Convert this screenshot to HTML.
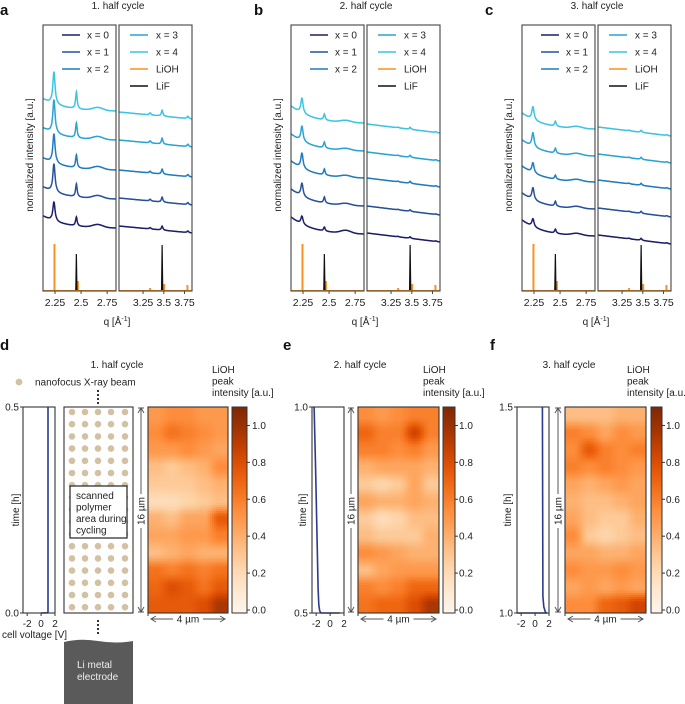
<!DOCTYPE html>
<html><head><meta charset="utf-8">
<style>
html,body{margin:0;padding:0;background:#fff;}
svg{display:block;font-family:"Liberation Sans",Arial,sans-serif;}
</style></head>
<body>
<svg id="fig" width="685" height="704" viewBox="0 0 685 704" xmlns="http://www.w3.org/2000/svg"></svg>
<script>
// ---------- DATA ----------
const seriesLabels=["x = 0","x = 1","x = 2","x = 3","x = 4"];
const seriesColors=["#1b1f6b","#27519b","#1f7cbf","#2ba3d3","#3dc4e2"];
const panelTitles=["1. half cycle","2. half cycle","3. half cycle"];
const qTicksL=[2.25,2.5,2.75];
const qTicksR=[3.25,3.5,3.75];
// spectrum parameters per panel (intensity in arbitrary units)
const startA=[75,104,133,163,192], liohA=[19,28,29,33,32], lifA=[9,13,13,15,17], humpA=[3,3,3,3,3], rOffA=[10,11,12,12,13], rPeakA=[4,5,5,6,6];
const startB=[74,102,130,157,185], liohB=[8,13,15,15,15], lifB=[4,6,6,6,6], humpB=[3,2,2,2,2], rOffB=[16,17,17,18,18], rPeakB=[1.5,1.5,2,2,2];
const startC=[71,98,125,151,178], liohC=[8,12,10,14,13], lifC=[4,5,4,5,5], humpC=[2,2,2,2,2], rOffC=[15,15,14,14,14], rPeakC=[2,2,2,2,2];
const dropL=[12,17,16], dropR=[7,9,9];
// reference sticks
const liohQ=[2.245,2.47,3.335,3.505,3.785], liohH=[47,10,3,7,6];
const lifQ=[2.455,3.48], lifH=[37,46];
// voltage curves
const timeD=[0,0.0005,0.003,0.5], voltD=[0,0.9,1.0,1.0];
const timeE=[0.5,0.5,0.505,0.52,0.56,0.7,0.85,1.0], voltE=[1.4,-1.3,-1.5,-1.62,-1.72,-1.9,-2.08,-2.3];
const timeF=[1.0,1.0,1.004,1.015,1.04,1.5], voltF=[-2.6,1.6,1.45,1.25,1.12,1.05];
const timeRanges=[[0,0.5],[0.5,1.0],[1.0,1.5]];
const voltTicks=[-2,0,2];
const cbTicks=[0,0.2,0.4,0.6,0.8,1.0];
// heatmaps (rows top->bottom, 5 cols)
const heatD=[[.5,.55,.55,.5,.5],[.55,.65,.6,.55,.5],[.5,.5,.55,.5,.45],[.35,.3,.35,.4,.55],[.3,.3,.3,.35,.4],[.2,.2,.25,.3,.35],[.4,.35,.45,.45,.75],[.45,.45,.5,.5,.6],[.35,.4,.45,.4,.4],[.65,.6,.65,.6,.65],[.7,.8,.75,.65,.75],[.75,.75,.75,.8,.95]];
const heatE=[[.55,.5,.55,.6,.6],[.7,.6,.6,.85,.6],[.6,.6,.55,.6,.5],[.4,.45,.45,.45,.4],[.3,.25,.3,.45,.3],[.45,.4,.4,.45,.4],[.3,.2,.25,.35,.35],[.35,.3,.3,.3,.4],[.55,.5,.45,.4,.4],[.35,.45,.5,.5,.5],[.6,.55,.6,.7,.7],[.65,.7,.7,.8,.95]];
const heatF=[[.35,.35,.35,.4,.4],[.6,.55,.45,.55,.5],[.55,.75,.6,.55,.6],[.6,.55,.6,.55,.5],[.45,.4,.45,.5,.45],[.4,.35,.35,.4,.45],[.45,.35,.3,.3,.4],[.55,.3,.25,.3,.35],[.45,.45,.4,.4,.45],[.55,.5,.5,.55,.5],[.45,.5,.45,.5,.45],[.55,.55,.7,.75,.85]];

// ---------- HELPERS ----------
const NS="http://www.w3.org/2000/svg";
const svg=document.getElementById('fig');
function mk(tag,attrs,parent){const e=document.createElementNS(NS,tag);for(const k in attrs)e.setAttribute(k,attrs[k]);(parent||svg).appendChild(e);return e;}
function txt(x,y,s,size,anchor,parent,extra){const e=mk('text',Object.assign({x:x,y:y,'font-size':size,'text-anchor':anchor||'start',fill:'#222'},extra||{}),parent);e.textContent=s;return e;}
function lin(a,b,c,d){return v=>c+(v-a)*(d-c)/(b-a);}
function lor(q,c,w){return 1/(1+((q-c)/w)*((q-c)/w));}
const OR=[[0,[255,245,235]],[.125,[254,230,206]],[.25,[253,208,162]],[.375,[253,174,107]],[.5,[253,141,60]],[.625,[241,105,19]],[.75,[217,72,1]],[.875,[166,54,3]],[1,[127,39,4]]];
function oranges(t){t=Math.max(0,Math.min(1,t));for(let i=1;i<OR.length;i++){if(t<=OR[i][0]){const a=OR[i-1],b=OR[i];const f=(t-a[0])/(b[0]-a[0]);const c=a[1].map((v,k)=>Math.round(v+(b[1][k]-v)*f));return `rgb(${c[0]},${c[1]},${c[2]})`;}}return 'rgb(127,39,4)';}

// ---------- TOP PANELS ----------
const params=[
 {start:startA,lioh:liohA,lif:lifA,hump:humpA,rOff:rOffA,rPeak:rPeakA},
 {start:startB,lioh:liohB,lif:lifB,hump:humpB,rOff:rOffB,rPeak:rPeakB},
 {start:startC,lioh:liohC,lif:lifC,hump:humpC,rOff:rOffC,rPeak:rPeakC}];
const offsets=[0,248,479];
const panelLetters=["a","b","c"];
const yInt=lin(0,266,291,25);
params.forEach((P,p)=>{
  const ox=offsets[p];
  const g=mk('g',{});
  
  
  const lab=txt(ox+(p==0?0:6),15,panelLetters[p],15,'start',g,{'font-weight':'bold',fill:'#111'});
  
  
  const tt=txt(ox+118,9,panelTitles[p],10,'middle',g);
  
  
  const xL=lin(2.135,2.835,43+ox,116+ox), xR=lin(2.96,3.84,119+ox,192+ox);
  const cid='clip'+p;
  const cp=mk('clipPath',{id:cid},g);mk('rect',{x:43+ox,y:25,width:73,height:266},cp);
  const cid2='clipR'+p;
  const cp2=mk('clipPath',{id:cid2},g);mk('rect',{x:119+ox,y:25,width:73,height:266},cp2);
  for(let i=0;i<5;i++){
    let d='';
    for(let q=2.135;q<=2.835;q+=0.002){
      const v=P.start[i]-dropL[p]*(1-Math.exp(-(q-2.135)/0.2))/(1-Math.exp(-0.7/0.2))+P.lioh[i]*lor(q,2.24,0.013)+P.lif[i]*lor(q,2.455,0.009)+P.hump[i]*Math.exp(-Math.pow((q-2.66)/0.07,2));
      d+=(d?'L':'M')+xL(q).toFixed(1)+' '+yInt(v).toFixed(1);
    }
    const pl=mk('path',{d:d,fill:'none',stroke:seriesColors[i],'stroke-width':1.5,'clip-path':`url(#${cid})`},g);
    
    
    let d2='';
    for(let q=2.96;q<=3.84;q+=0.002){
      const v=P.start[i]-P.rOff[i]-dropR[p]*(q-2.96)/0.88+P.rPeak[i]*lor(q,3.48,0.011)+0.35*P.rPeak[i]*lor(q,3.335,0.012)+0.4*P.rPeak[i]*lor(q,3.79,0.012);
      d2+=(d2?'L':'M')+xR(q).toFixed(1)+' '+yInt(v).toFixed(1);
    }
    const pr=mk('path',{d:d2,fill:'none',stroke:seriesColors[i],'stroke-width':1.5,'clip-path':`url(#${cid2})`},g);
    
    
  }
  liohQ.forEach((q,k)=>{
    const xs=q<2.9?xL:xR;const x=xs(q);
    const s=mk('path',{d:`M${x-1} 291 L${x-1} ${yInt(liohH[k])} L${x+1} ${yInt(liohH[k])} L${x+1} 291Z`,fill:'#f7931e'},g);
    
    
  });
  lifQ.forEach((q,k)=>{
    const xs=q<2.9?xL:xR;const x=xs(q);
    const s=mk('path',{d:`M${x-1.2} 291 L${x-0.6} ${yInt(lifH[k])} L${x+0.6} ${yInt(lifH[k])} L${x+1.2} 291Z`,fill:'#111'},g);
    
    
  });
  mk('line',{x1:43+ox,y1:290.5,x2:116+ox,y2:290.5,stroke:'#f7931e','stroke-width':1},g);
  mk('line',{x1:119+ox,y1:290.5,x2:192+ox,y2:290.5,stroke:'#f7931e','stroke-width':1},g);
  const b1=mk('rect',{x:43+ox,y:25,width:73,height:266,fill:'none',stroke:'#444','stroke-width':1.1},g);
  
  const b2=mk('rect',{x:119+ox,y:25,width:73,height:266,fill:'none',stroke:'#444','stroke-width':1.1},g);
  
  qTicksL.forEach(t=>{mk('line',{x1:xL(t),y1:291,x2:xL(t),y2:294,stroke:'#444'},g);const e=txt(xL(t),306,String(t),10.5,'middle',g);});
  qTicksR.forEach(t=>{mk('line',{x1:xR(t),y1:291,x2:xR(t),y2:294,stroke:'#444'},g);const e=txt(xR(t),306,String(t),10.5,'middle',g);});
  const xt=txt(ox+117,325,'q [Å',10,'middle',g);
  xt.innerHTML='q [Å<tspan font-size="7" dy="-4">-1</tspan><tspan dy="4">]</tspan>';
  
  const yt=txt(0,0,'normalized intensity [a.u.]',10,'middle',g,{transform:`translate(${ox+33},155) rotate(-90)`});
  
  const legRowsY=[35,52,69,86];
  for(let i=0;i<3;i++){
    const le=mk('g',{},g);
    mk('line',{x1:62+ox,y1:legRowsY[i],x2:80+ox,y2:legRowsY[i],stroke:seriesColors[i],'stroke-width':1.6},le);
    txt(87+ox,legRowsY[i]+3.5,seriesLabels[i],10,'start',le);
  }
  const rl=[[seriesLabels[3],seriesColors[3]],[seriesLabels[4],seriesColors[4]],['LiOH','#f7931e'],['LiF','#111']];
  rl.forEach((r,i)=>{
    const le=mk('g',{},g);
    mk('line',{x1:130+ox,y1:legRowsY[i],x2:148+ox,y2:legRowsY[i],stroke:r[1],'stroke-width':1.6},le);
    txt(156+ox,legRowsY[i]+3.5,r[0],10,'start',le);
  });
});

// ---------- BOTTOM PANELS ----------
const bottom=[
 {letter:'d',lx:0,title:'1. half cycle',tx:117,vb:[23,55],hm:[148,228],cb:[232,247],cbl:252,lioh:212,time:timeD,volt:voltD,heat:heatD,ytl:15},
 {letter:'e',lx:283,title:'2. half cycle',tx:360,vb:[312,344],hm:[358,439],cb:[443,455],cbl:459,lioh:423,time:timeE,volt:voltE,heat:heatE,ytl:302},
 {letter:'f',lx:490,title:'3. half cycle',tx:569,vb:[517,549],hm:[565,646],cb:[651,662],cbl:666,lioh:627,time:timeF,volt:voltF,heat:heatF,ytl:507}];
const yTop=407,yBot=613;
bottom.forEach((B,p)=>{
  const g=mk('g',{});
  const lab=txt(B.lx,350,B.letter,15,'start',g,{'font-weight':'bold',fill:'#111'});
  
  const t=txt(B.tx,368,B.title,10,'middle',g);
  ['LiOH','peak','intensity [a.u.]'].forEach((s,i)=>{const e=txt(B.lioh,373+i*11.5,s,10,'start',g);});
  const tr=timeRanges[p];
  const xv=lin(-2.6,2.0,B.vb[0],B.vb[1]), yt=lin(tr[0],tr[1],yBot,yTop);
  let d='';B.time.forEach((tm,i)=>{d+=(i?'L':'M')+xv(B.volt[i]).toFixed(1)+' '+yt(tm).toFixed(1);});
  const vl=mk('path',{d:d,fill:'none',stroke:'#2b3a8c','stroke-width':1.6},g);
  
  const vf=mk('rect',{x:B.vb[0],y:yTop,width:B.vb[1]-B.vb[0],height:yBot-yTop,fill:'none',stroke:'#333','stroke-width':1.1},g);
  
  voltTicks.forEach(v=>{mk('line',{x1:xv(v),y1:yBot,x2:xv(v),y2:yBot+3,stroke:'#333'},g);const e=txt(xv(v),yBot+14,String(v),10,'middle',g);});
  tr.forEach(tv=>{mk('line',{x1:B.vb[0]-3,y1:yt(tv),x2:B.vb[0],y2:yt(tv),stroke:'#333'},g);const e=txt(B.vb[0]-4,yt(tv)+3.5,tv.toFixed(1),10,'end',g);});
  const ytt=txt(0,0,'time [h]',10,'middle',g,{transform:`translate(${B.ytl+4},${(yTop+yBot)/2}) rotate(-90)`});
  
  if(p==0){const e=txt(2,638,'cell voltage [V]',10,'start',g);}
  const H=B.heat, nr=H.length, nc=H[0].length;
  const hg=mk('g',{'shape-rendering':'crispEdges'},g);
  const step=2;
  for(let py=yTop;py<yBot;py+=step){
    for(let px=B.hm[0];px<B.hm[1];px+=step){
      const u=((px+step/2-B.hm[0])/(B.hm[1]-B.hm[0]))*nc-0.5, w=((py+step/2-yTop)/(yBot-yTop))*nr-0.5;
      const c0=Math.max(0,Math.min(nc-1,Math.floor(u))),c1=Math.min(nc-1,c0+1),r0=Math.max(0,Math.min(nr-1,Math.floor(w))),r1=Math.min(nr-1,r0+1);
      const fu=Math.max(0,Math.min(1,u-c0)),fw=Math.max(0,Math.min(1,w-r0));
      const sm=f=>f*f*(3-2*f);
      const a=H[r0][c0]*(1-sm(fu))+H[r0][c1]*sm(fu), b=H[r1][c0]*(1-sm(fu))+H[r1][c1]*sm(fu);
      const v=a*(1-sm(fw))+b*sm(fw);
      mk('rect',{x:px,y:py,width:Math.min(step,B.hm[1]-px),height:Math.min(step,yBot-py),fill:oranges(v/1.1)},hg);
    }
  }
  mk('rect',{x:B.hm[0],y:yTop,width:B.hm[1]-B.hm[0],height:yBot-yTop,fill:'none',stroke:'#333','stroke-width':1.1},g);
  const gid='cbg'+p;const lg=mk('linearGradient',{id:gid,x1:0,y1:1,x2:0,y2:0},g);
  for(let k=0;k<=10;k++)mk('stop',{offset:k/10,'stop-color':oranges(k/10)},lg);
  const cb=mk('rect',{x:B.cb[0],y:yTop,width:B.cb[1]-B.cb[0],height:yBot-yTop,fill:`url(#${gid})`,stroke:'#333','stroke-width':1},g);
  
  const yc=lin(0,1.1,yBot-3,yTop);
  cbTicks.forEach(v=>{mk('line',{x1:B.cb[1],y1:yc(v),x2:B.cb[1]+3,y2:yc(v),stroke:'#333'},g);const e=txt(B.cbl,yc(v)+3.5,v.toFixed(1),10,'start',g);});
  const ax=B.hm[0]-7;
  mk('line',{x1:ax,y1:yTop+2,x2:ax,y2:494,stroke:'#555'},g);mk('line',{x1:ax,y1:528,x2:ax,y2:yBot-2,stroke:'#555'},g);
  mk('path',{d:`M${ax-3} ${yTop+6} L${ax} ${yTop+1} L${ax+3} ${yTop+6} M${ax-3} ${yBot-6} L${ax} ${yBot-1} L${ax+3} ${yBot-6} M${ax-3} ${yTop+1} H${ax+3} M${ax-3} ${yBot-1} H${ax+3}`,fill:'none',stroke:'#555'},g);
  const um=txt(0,0,'16 µm',10,'middle',g,{transform:`translate(${ax+3.5},511) rotate(-90)`});
  const hy2=619,cx=(B.hm[0]+B.hm[1])/2;
  mk('line',{x1:B.hm[0]+3,y1:hy2,x2:cx-15,y2:hy2,stroke:'#555'},g);mk('line',{x1:cx+15,y1:hy2,x2:B.hm[1]-3,y2:hy2,stroke:'#555'},g);
  mk('path',{d:`M${B.hm[0]+8} ${hy2-3} L${B.hm[0]+3} ${hy2} L${B.hm[0]+8} ${hy2+3} M${B.hm[1]-8} ${hy2-3} L${B.hm[1]-3} ${hy2} L${B.hm[1]-8} ${hy2+3}`,fill:'none',stroke:'#555'},g);
  const w4=txt(cx,hy2+3.5,'4 µm',10,'middle',g);
  mk('line',{x1:B.hm[0],y1:yBot,x2:B.hm[0],y2:yBot+3,stroke:'#333'},g);
});

// ---------- SCHEMATIC (panel d) ----------
const sg=mk('g',{});
const bl=mk('g',{},sg);
mk('circle',{cx:19,cy:382,r:3.4,fill:'#d2c1a3'},bl);txt(35,385.5,'nanofocus X-ray beam',10,'start',bl);
mk('rect',{x:64,y:yTop,width:69,height:206,fill:'#fff',stroke:'#333','stroke-width':1.1},sg);
const dotCols=[72,85,98,111,125];
for(let r=0;r<17;r++)for(const cx of dotCols){mk('circle',{cx:cx,cy:412+r*12.2,r:3.3,fill:'#d2c1a3'},sg);}
const sb=mk('rect',{x:70,y:486,width:57,height:52,fill:'#fff',stroke:'#222','stroke-width':1.2},sg);

['scanned','polymer','area during','cycling'].forEach((s,i)=>txt(76,499+i*11.5,s,10,'start',sg));
for(let i=0;i<4;i++){mk('rect',{x:97,y:390+i*4,width:2,height:2,fill:'#333'},sg);mk('rect',{x:97,y:620+i*4,width:2,height:2,fill:'#333'},sg);}
const el=mk('path',{d:'M64 642 Q80 638 98 641 Q116 644 133 641 L133 704 L64 704 Z',fill:'#5a5a5a'},sg);

txt(77,668,'Li metal',10,'start',sg,{fill:'#eee'});txt(77,680,'electrode',10,'start',sg,{fill:'#eee'});
</script>
</body></html>
